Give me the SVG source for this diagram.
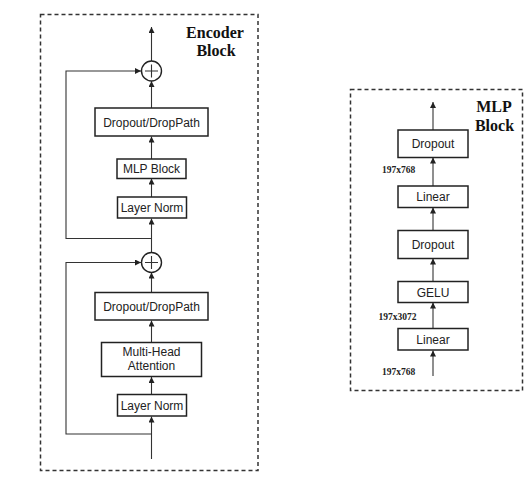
<svg xmlns="http://www.w3.org/2000/svg" width="529" height="490" viewBox="0 0 529 490">
<defs>
<marker id="ah" viewBox="0 0 8 8" refX="8" refY="4" markerWidth="6" markerHeight="6" markerUnits="userSpaceOnUse" orient="auto">
<path d="M0,0 L8,4 L0,8 z" fill="#222"/>
</marker>
</defs>
<style>
.frame{fill:none;stroke:#333;stroke-width:1.5;stroke-dasharray:4 3}
.box{fill:#fff;stroke:#222;stroke-width:1.5}
.lbl{font-family:"Liberation Sans",Arial,sans-serif;font-size:12px;fill:#222;text-anchor:middle}
.title{font-family:"Liberation Serif","Times New Roman",serif;font-weight:bold;font-size:16px;fill:#111;text-anchor:middle}
.dim{font-family:"Liberation Serif","Times New Roman",serif;font-weight:bold;font-size:9.5px;fill:#222;text-anchor:middle}
.ln{fill:none;stroke:#333;stroke-width:1.1}
.arr{fill:none;stroke:#333;stroke-width:1.1;marker-end:url(#ah)}
.sum{fill:#fff;stroke:#222;stroke-width:1.4}
</style>
<rect width="529" height="490" fill="#fff"/>

<g id="encoder-frame">
<rect class="frame" x="40.5" y="14.5" width="217.5" height="456"/>
<text class="title" x="215" y="38">Encoder</text>
<text class="title" x="216" y="56">Block</text>
</g>

<g id="mlp-frame">
<rect class="frame" x="350.5" y="89.5" width="172" height="301"/>
<text class="title" x="494" y="112">MLP</text>
<text class="title" x="494.5" y="131">Block</text>
</g>

<g id="connectors">
<!-- encoder -->
<line class="arr" x1="151.5" y1="459" x2="151.5" y2="416.5"/>
<polyline class="arr" points="151.5,434 66,434 66,262.5 141,262.5"/>
<line class="arr" x1="151.5" y1="394.5" x2="151.5" y2="377"/>
<line class="arr" x1="151.5" y1="342.5" x2="151.5" y2="320.5"/>
<line class="arr" x1="151.5" y1="292.5" x2="151.5" y2="272.5"/>
<line class="arr" x1="151.5" y1="252.5" x2="151.5" y2="218.5"/>
<polyline class="arr" points="151.5,238.5 66,238.5 66,71 141,71"/>
<line class="arr" x1="151.5" y1="197" x2="151.5" y2="178.5"/>
<line class="arr" x1="151.5" y1="159" x2="151.5" y2="136.5"/>
<line class="arr" x1="151.5" y1="108" x2="151.5" y2="81"/>
<line class="arr" x1="151.5" y1="61" x2="151.5" y2="27"/>
<!-- mlp -->
<line class="arr" x1="433" y1="376" x2="433" y2="350.5"/>
<line class="arr" x1="433" y1="328.5" x2="433" y2="302.5"/>
<line class="arr" x1="433" y1="281.5" x2="433" y2="258.5"/>
<line class="arr" x1="433" y1="230.5" x2="433" y2="207.5"/>
<line class="arr" x1="433" y1="186" x2="433" y2="157.5"/>
<line class="arr" x1="433" y1="130" x2="433" y2="102"/>
</g>

<g id="add1">
<circle class="sum" cx="151.5" cy="71" r="10"/>
<path class="ln" d="M145,71 H158 M151.5,64.5 V77.5" stroke-width="1.4"/>
</g>
<g id="dropout-droppath-1">
<rect class="box" x="95" y="108" width="113" height="28"/>
<text class="lbl" x="151.5" y="126.5">Dropout/DropPath</text>
</g>
<g id="mlp-block">
<rect class="box" x="117" y="159" width="69" height="19.5"/>
<text class="lbl" x="151.5" y="173">MLP Block</text>
</g>
<g id="layer-norm-1">
<rect class="box" x="117.5" y="197" width="69" height="21"/>
<text class="lbl" x="152" y="212">Layer Norm</text>
</g>
<g id="add2">
<circle class="sum" cx="151.5" cy="262.5" r="10"/>
<path class="ln" d="M145,262.5 H158 M151.5,256 V269" stroke-width="1.4"/>
</g>
<g id="dropout-droppath-2">
<rect class="box" x="95" y="292.5" width="113" height="27.5"/>
<text class="lbl" x="151.5" y="310.5">Dropout/DropPath</text>
</g>
<g id="mha">
<rect class="box" x="101.5" y="342.5" width="100" height="34"/>
<text class="lbl" x="151.5" y="356">Multi-Head</text>
<text class="lbl" x="151.5" y="370">Attention</text>
</g>
<g id="layer-norm-2">
<rect class="box" x="117.5" y="394.5" width="69" height="21.5"/>
<text class="lbl" x="152" y="410">Layer Norm</text>
</g>

<g id="mlp-dropout-2">
<rect class="box" x="398" y="130" width="70" height="27.5"/>
<text class="lbl" x="433" y="148">Dropout</text>
</g>
<text class="dim" x="398.5" y="173">197x768</text>
<g id="mlp-linear-2">
<rect class="box" x="398" y="186" width="70" height="21.5"/>
<text class="lbl" x="433" y="201">Linear</text>
</g>
<g id="mlp-dropout-1">
<rect class="box" x="398" y="230.5" width="70" height="28"/>
<text class="lbl" x="433" y="249">Dropout</text>
</g>
<g id="mlp-gelu">
<rect class="box" x="398" y="281.5" width="70" height="21"/>
<text class="lbl" x="433" y="296.5">GELU</text>
</g>
<text class="dim" x="397.5" y="320">197x3072</text>
<g id="mlp-linear-1">
<rect class="box" x="398" y="328.5" width="70" height="21.5"/>
<text class="lbl" x="433" y="344">Linear</text>
</g>
<text class="dim" x="398.5" y="375">197x768</text>
</svg>
